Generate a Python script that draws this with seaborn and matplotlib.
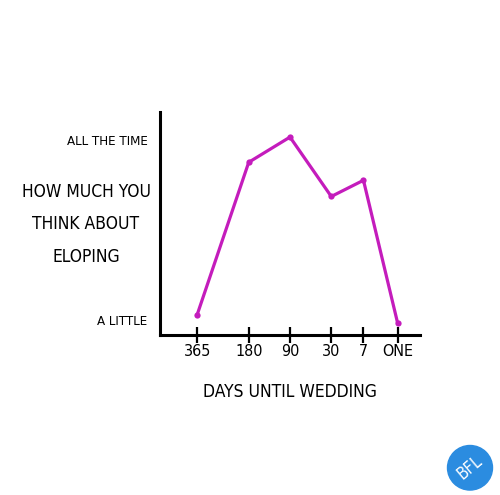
import numpy as np
import pandas as pd
import seaborn as sns
import matplotlib.pyplot as plt
from matplotlib.patches import Circle

# days-until-wedding checkpoints, spaced as drawn on the axis
days = ['365', '180', '90', '30', '7', 'ONE']
day_pos = [0.0, 1.25, 2.25, 3.25, 4.03, 4.86]
# how much you think about eloping (0 = a little, 10 = all the time)
eloping = [0.28, 8.75, 10.15, 6.85, 7.75, -0.2]

df = pd.DataFrame({'pos': day_pos, 'eloping': eloping, 'days': days})

sns.set_style('white')
plt.rcParams['font.family'] = ['DejaVu Sans']
plt.rcParams['font.stretch'] = 'condensed'
plt.rcParams['text.color'] = 'black'
plt.rcParams['xtick.color'] = 'black'
plt.rcParams['ytick.color'] = 'black'
plt.rcParams['axes.labelcolor'] = 'black'

fig = plt.figure(figsize=(5, 4.95), dpi=100)
ax = fig.add_axes([0.32, 0.323, 0.52, 0.451])

sns.lineplot(data=df, x='pos', y='eloping', ax=ax, color='#c41cbc', linewidth=2.3,
             marker='o', markersize=4.5, markeredgewidth=0, sort=False)

ax.set_xlim(-0.9, 5.4)
ax.set_ylim(-0.85, 11.55)
ax.set_xticks(day_pos)
ax.set_xticklabels(days, fontsize=11.5)
ax.set_yticks([0, 10])
ax.set_yticklabels(['A LITTLE', 'ALL THE TIME'], fontsize=9.5)
ax.tick_params(axis='x', bottom=True, direction='inout', length=11, width=1.6, pad=1)
ax.tick_params(axis='y', left=False, length=0, pad=9)
ax.set_xlabel('DAYS UNTIL WEDDING', fontsize=12.5, labelpad=17)
ax.set_ylabel('')

for side in ['top', 'right']:
    ax.spines[side].set_visible(False)
for side in ['left', 'bottom']:
    ax.spines[side].set_color('black')
    ax.spines[side].set_linewidth(2.2)

fig.text(0.172, 0.547, 'HOW MUCH YOU\nTHINK ABOUT\nELOPING', ha='center', va='center',
         fontsize=12.5, linespacing=2.05)

# BFL badge
badge = Circle((0.94, 0.055), 0.045, transform=fig.transFigure, color='#2b8ce0')
fig.patches.append(badge)
fig.text(0.94, 0.055, 'BFL', color='white', ha='center', va='center', fontsize=12,
         rotation=40)

fig.savefig('out.png', dpi=100)
